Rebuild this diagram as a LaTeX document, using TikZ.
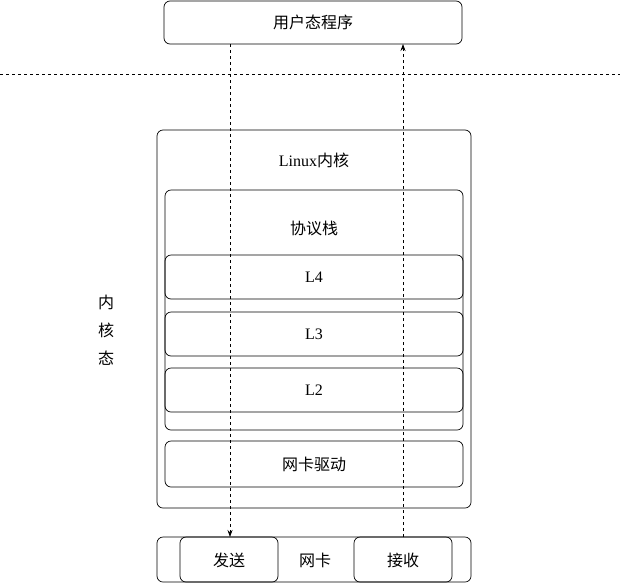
\documentclass[tikz,border=0pt]{standalone}
\usepackage{fontspec}
\setmainfont{Liberation Serif}
\newfontfamily\cjk{Noto Sans CJK SC}
\usetikzlibrary{arrows.meta}
\newcommand{\zh}[1]{{\cjk\fontsize{16}{18}\selectfont #1}}

\begin{document}
\begin{tikzpicture}[x=1pt, y=-1pt,
    box/.style={draw, rounded corners=6pt, line width=0.7pt},
    lbl/.style={font=\fontsize{16}{18}\selectfont, inner sep=0pt},
    flow/.style={dashed, line width=0.7pt, -{Stealth[length=7pt, width=5pt]}}]
    \useasboundingbox (0,0) rectangle (620,584);

    % user space
    \draw[box] (164,1) rectangle (462,44);
    \node[lbl] (user) at (313,22) {\zh{用户态程序}};
    \draw[dashed, line width=0.7pt] (0,74) -- (620,74);

    % kernel
    \draw[box] (157,130) rectangle (471,508);
    \node[lbl] (linux) at (314,160) {Linux\zh{内核}};
    \draw[box] (165,190) rectangle (463,430);
    \node[lbl] (stack) at (314,228) {\zh{协议栈}};
    \draw[box] (165,255) rectangle (463,299);
    \node[lbl] (l4) at (314,277) {L4};
    \draw[box] (165,312) rectangle (463,356);
    \node[lbl] (l3) at (314,334) {L3};
    \draw[box] (165,368) rectangle (463,412);
    \node[lbl] (l2) at (314,390) {L2};
    \draw[box] (165,441) rectangle (463,487);
    \node[lbl] (drv) at (314,464) {\zh{网卡驱动}};
    \node[lbl, align=center] (kmode) at (106,330) {\zh{内}\\[10pt]\zh{核}\\[10pt]\zh{态}};

    % NIC
    \draw[box] (157,537) rectangle (471,582);
    \draw[box] (180,537) rectangle (278,582);
    \draw[box] (354,537) rectangle (452,582);
    \node[lbl] (tx) at (229,560) {\zh{发送}};
    \node[lbl] (nic) at (315,560) {\zh{网卡}};
    \node[lbl] (rx) at (403,560) {\zh{接收}};

    \coordinate (utx) at (230,44);
    \coordinate (ntx) at (230,537);
    \coordinate (urx) at (403,44);
    \coordinate (nrx) at (403,537);
    \draw[flow] (utx) -- (ntx);
    \draw[flow] (nrx) -- (urx);
\end{tikzpicture}
\end{document}
